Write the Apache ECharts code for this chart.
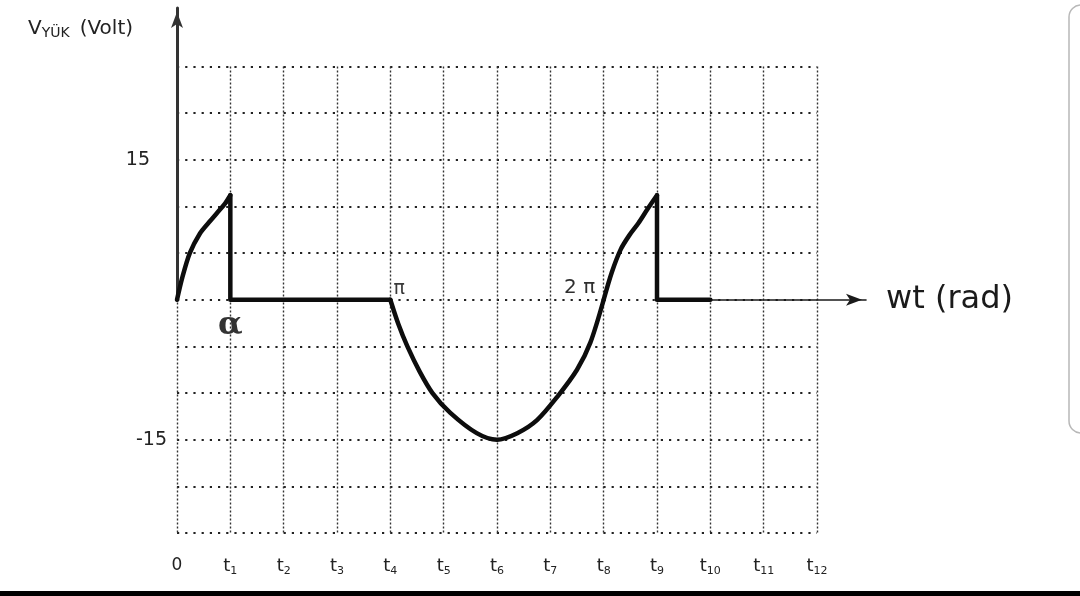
<!DOCTYPE html>
<html>
<head>
<meta charset="utf-8">
<script src="https://cdn.jsdelivr.net/npm/echarts@6/dist/echarts.min.js"></script>
<style>
html,body{margin:0;padding:0;background:#fff;}
#c{width:1080px;height:596px;}
</style>
</head>
<body>
<div id="c"></div>
<script>
// ---- data ----
const xTicks = [0,1,2,3,4,5,6,7,8,9,10,11,12];
const xTickLabels = ['0','t1','t2','t3','t4','t5','t6','t7','t8','t9','t10','t11','t12'];
const yTickLabels = {'15':'15','-15':'-15'};
// waveform pieces [t, volts]
const riseA_T = [0, 0.1, 0.24, 0.43, 0.6, 0.75, 0.9, 1];
const riseA_V = [0, 2.4, 5, 7.1, 8.3, 9.3, 10.3, 11.2];
const flatA_T = [1, 1, 4];
const flatA_V = [11.2, 0, 0];
const lobe_T = [4, 4.15, 4.32, 4.55, 4.79, 5.12, 5.62, 6, 6.38, 6.75, 7.13, 7.5, 7.75, 8];
const lobe_V = [0, -2.6, -5, -7.7, -10, -12.1, -14.3, -15, -14.3, -12.9, -10.4, -7.5, -4.6, 0];
const riseB_T = [8, 8.15, 8.32, 8.48, 8.65, 8.82, 9];
const riseB_V = [0, 2.9, 5.4, 6.9, 8.2, 9.7, 11.2];
const flatB_T = [9, 9, 10];
const flatB_V = [11.2, 0, 0];
// annotations
const notes = [
  {t:4, v:0, text:'π', style:'pi'},
  {t:8, v:0, text:'2 π', style:'pi2'},
  {t:1, v:0, text:'α', style:'alpha'}
];

const noteStyles = {
  pi:{font:'19px "DejaVu Sans"', fill:'#3a3a3a', dx:9, dy:-11},
  pi2:{font:'20px "DejaVu Sans"', fill:'#2f2f2f', dx:-24, dy:-12},
  alpha:{font:'bold 32px "DejaVu Serif"', fill:'#333', dx:0, dy:26}
};

const chart = echarts.init(document.getElementById('c'), null, {renderer:'canvas'});
const FONT = 'DejaVu Sans';
const TXT = '#222';

function pieceSeries(ts, vs, smooth){
  return {type:'line', xAxisIndex:0, yAxisIndex:0, showSymbol:false, symbol:'none',
    smooth: smooth, data: ts.map((t,i)=>[t, vs[i]]),
    lineStyle:{color:'#0d0d0d', width:4.5, join:'round', cap:'round'}, z:5};
}

const option = {
  backgroundColor:'#fff',
  animation:false,
  grid:[
    {left:177, right:263, top:66.5, bottom:63},
    {left:656, right:214, top:66.5, bottom:63},
    {left:177, width:10, top:8, bottom:296}
  ],
  xAxis:[
    {gridIndex:0, type:'value', min:0, max:12, interval:1,
     axisLine:{show:false}, axisTick:{show:false},
     splitLine:{show:true, lineStyle:{color:'#333', width:1.4, type:[2,2]}},
     axisLabel:{margin:22, fontFamily:FONT, color:TXT,
       formatter:function(v){
         const s = xTickLabels[xTicks.indexOf(v)];
         if(s==='0') return '{z|0}';
         return '{t|t}{s|'+s.slice(1)+'}';
       },
       rich:{
         z:{fontSize:17, fontFamily:FONT, color:TXT, verticalAlign:'middle', lineHeight:22},
         t:{fontSize:18, fontFamily:FONT, color:TXT, verticalAlign:'middle', lineHeight:22},
         s:{fontSize:11, fontFamily:FONT, color:TXT, verticalAlign:'bottom', lineHeight:22}
       }}
    },
    {gridIndex:1, type:'value', min:0, max:1,
     axisLine:{show:true, onZero:true, symbol:['none','arrow'], symbolSize:[9,16], symbolOffset:[0,-4],
       lineStyle:{color:'#1a1a1a', width:1.6}},
     axisTick:{show:false}, axisLabel:{show:false}, splitLine:{show:false},
     name:'wt (rad)', nameLocation:'end', nameGap:20,
     nameTextStyle:{fontFamily:FONT, fontSize:32, color:'#1a1a1a', verticalAlign:'middle'}
    },
    {gridIndex:2, type:'value', min:0, max:1, show:false}
  ],
  yAxis:[
    {gridIndex:0, type:'value', min:-25, max:25, interval:5,
     axisLine:{show:false}, axisTick:{show:false},
     splitLine:{show:true, lineStyle:{color:'#222', width:2.2, type:[2.2,6]}},
     axisLabel:{margin:10, fontFamily:FONT, color:TXT, fontSize:18,
       formatter:function(v){
         const s = yTickLabels[String(v)];
         if(!s) return '';
         return v>0 ? '{p|'+s+'}' : '{n|'+s+'}';
       },
       rich:{
         p:{fontSize:19, fontFamily:FONT, color:TXT, padding:[0,17,0,0]},
         n:{fontSize:19, fontFamily:FONT, color:TXT}
       }}
    },
    {gridIndex:1, type:'value', min:-25, max:25, show:false},
    {gridIndex:2, type:'value', min:0, max:1, position:'left',
     axisLine:{show:true, onZero:false, symbol:['none','arrow'], symbolSize:[9,16], symbolOffset:[0,-4],
       lineStyle:{color:'#333', width:3}},
     axisTick:{show:false}, axisLabel:{show:false}, splitLine:{show:false}}
  ],
  series:[
    pieceSeries(riseA_T, riseA_V, 0.3),
    pieceSeries(flatA_T, flatA_V, false),
    pieceSeries(lobe_T, lobe_V, 0.3),
    pieceSeries(riseB_T, riseB_V, 0.3),
    pieceSeries(flatB_T, flatB_V, false)
  ],
  graphic:[
    {type:'text', left:28, top:19, z:10,
     style:{rich:{
       v:{fontFamily:FONT, fontSize:20, fill:TXT},
       k:{fontFamily:FONT, fontSize:14, fill:TXT, padding:[8,10,0,0]},
       o:{fontFamily:FONT, fontSize:20, fill:TXT}
     }, text:'{v|V}{k|YÜK}{o|(Volt)}'}},
    {type:'rect', shape:{x:1069, y:5, width:40, height:428, r:12},
     style:{fill:'none', stroke:'#b8b8b8', lineWidth:1.5}},
    {type:'rect', shape:{x:0, y:591, width:1080, height:5}, style:{fill:'#000'}}
  ]
};
chart.setOption(option);

// annotation texts positioned through the chart's own scales
const noteGraphics = notes.map(n=>{
  const p = chart.convertToPixel({gridIndex:0}, [n.t, n.v]);
  const st = noteStyles[n.style];
  return {type:'text', x:p[0]+st.dx, y:p[1]+st.dy, z:20,
    style:{text:n.text, font:st.font, fill:st.fill, align:'center', verticalAlign:'middle'}};
});
chart.setOption({graphic: option.graphic.concat(noteGraphics)});
</script>
</body>
</html>
